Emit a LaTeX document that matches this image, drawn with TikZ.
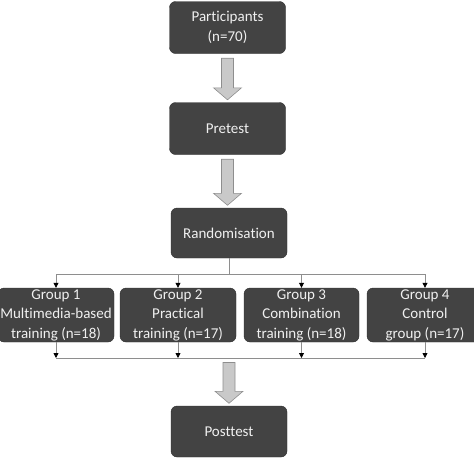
\documentclass[tikz,border=0pt]{standalone}
\usepackage{fontspec}
\setmainfont[Ligatures=NoCommon]{Carlito}
\usepackage{tikz}
\usetikzlibrary{arrows.meta,calc,positioning}
\definecolor{kastenGrau}{HTML}{434343}
\definecolor{randGrau}{HTML}{2C2C2C}
\definecolor{pfeilGrau}{HTML}{C9C9C9}
\definecolor{linienGrau}{HTML}{8E8E8E}
\tikzset{
  kasten/.style={draw=randGrau,fill=kastenGrau,rounded corners=6pt,text=white!94!black,
    minimum width=116pt,minimum height=52pt,inner sep=1pt,align=center,
    font=\fontsize{15}{19.5}\selectfont},
  blockpfeil/.style={draw=linienGrau,fill=pfeilGrau,line width=0.6pt},
  linie/.style={draw=linienGrau,line width=0.8pt},
  spitze/.style={linie,-{Triangle[color=black,width=5pt,length=5pt]}}
}
\begin{document}
\begin{tikzpicture}
\useasboundingbox (0pt,0pt) rectangle (474pt,-474pt);
\begin{scope}
\clip (0pt,0pt) rectangle (474pt,-474pt);
%Kaesten oben
\node[kasten] (teilnehmer) at (227.5pt,-27.5pt) {Participants\\(n=70)};
\node[kasten] (pretest) at (227.5pt,-128.5pt) {Pretest};
\node[kasten,minimum height=50pt] (random) at (229pt,-233pt) {Randomisation};
%Gruppen
\node[kasten,minimum height=54pt] (gruppeA) at (56pt,-315pt) {Group 1\\Multimedia-based\\training (n=18)};
\node[kasten,minimum height=54pt] (gruppeB) at (178pt,-315pt) {Group 2\\Practical\\training (n=17)};
\node[kasten,minimum height=54pt,minimum width=115pt] (gruppeC) at (301.5pt,-315pt) {Group 3\\Combination\\training (n=18)};
\node[kasten,minimum height=54pt] (gruppeD) at (425pt,-315pt) {Group 4\\Control\\group (n=17)};
\node[kasten,minimum height=51pt] (posttest) at (229pt,-431.5pt) {Posttest};
\coordinate (busOben) at (0pt,-274pt);
\coordinate (busUnten) at (0pt,-358pt);
%Verteilung auf die Gruppen
\draw[linie] (random.south) -- (random.south |- busOben);
\draw[linie] (gruppeA |- busOben) -- (gruppeD |- busOben);
\draw[linie] (gruppeA |- busUnten) -- (gruppeD |- busUnten);
\foreach \g in {gruppeA,gruppeB,gruppeC,gruppeD}{
\draw[spitze] (\g |- busOben) -- (\g.north);
\draw[spitze] (\g.south) -- (\g |- busUnten);
}
\coordinate (busMitte) at (random.south |- busUnten);
%Blockpfeile
\foreach \von/\nach in {teilnehmer.south/pretest.north,pretest.south/random.north,busMitte/posttest.north}{
\draw[blockpfeil] let \p1=($(\von)+(0,-4.5pt)$), \p2=($(\nach)+(0,2.5pt)$) in
  (\x1-6pt,\y1) -- (\x1+6pt,\y1) -- (\x1+6pt,\y2+12pt) -- (\x1+14pt,\y2+12pt) -- (\x1,\y2)
  -- (\x1-14pt,\y2+12pt) -- (\x1-6pt,\y2+12pt) -- cycle;
}
\end{scope}
\end{tikzpicture}
\end{document}
